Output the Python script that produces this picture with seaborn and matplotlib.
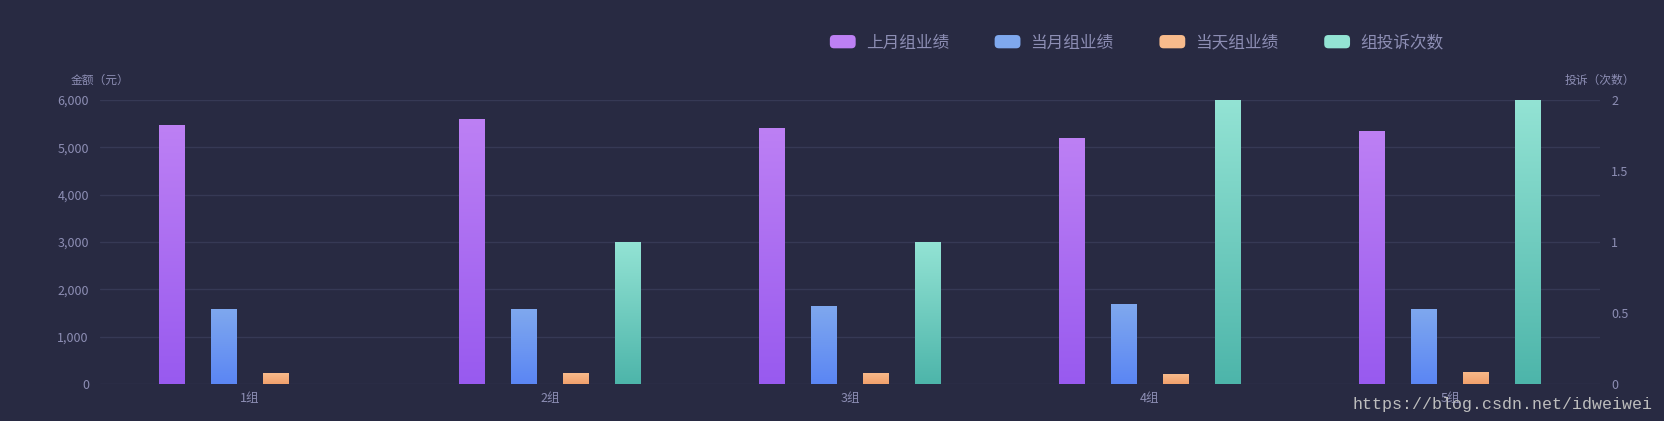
import numpy as np
import pandas as pd
import seaborn as sns
import matplotlib.pyplot as plt
from matplotlib.colors import LinearSegmentedColormap, to_hex
from matplotlib.patches import Patch, FancyBboxPatch
from matplotlib.legend_handler import HandlerPatch
from matplotlib.ticker import FuncFormatter, MultipleLocator

# data
groups = ['1组', '2组', '3组', '4组', '5组']
series = ['上月组业绩', '当月组业绩', '当天组业绩', '组投诉次数']
last_month = [5470, 5600, 5410, 5200, 5340]
this_month = [1585, 1580, 1650, 1680, 1590]
today = [232, 226, 233, 204, 254]
complaints = [0, 1, 1, 2, 2]

# gradient ends (top, bottom) per series
grad_colors = {
    '上月组业绩': ('#bd80f4', '#985aef'),
    '当月组业绩': ('#7fa8ee', '#5b86f4'),
    '当天组业绩': ('#f8bb8c', '#f1a06c'),
    '组投诉次数': ('#93e3d4', '#4db5aa'),
}
palette = {k: v[1] for k, v in grad_colors.items()}
legend_colors = {k: v[0] for k, v in grad_colors.items()}

BG = '#282a42'
GRID = '#363955'
TXT = '#8d8eb4'

sns.set_theme(style='dark')
plt.rcParams['font.family'] = ['Noto Sans CJK SC', 'DejaVu Sans']

zeros = [0] * len(groups)
# both axes get all four series so the dodge slots line up;
# the series belonging to the other axis are zero height there
money = pd.DataFrame({
    'group': groups * 4,
    'series': np.repeat(series, len(groups)),
    'value': last_month + this_month + today + zeros,
})
counts = pd.DataFrame({
    'group': groups * 4,
    'series': np.repeat(series, len(groups)),
    'value': zeros + zeros + zeros + complaints,
})

fig = plt.figure(figsize=(16.64, 4.21), dpi=100, facecolor=BG)
ax = fig.add_axes([100 / 1664, 37 / 421, 1500 / 1664, 284 / 421])
ax.set_facecolor(BG)
ax2 = ax.twinx()

common = dict(x='group', y='value', hue='series', hue_order=series, order=groups,
              palette=palette, width=0.693, gap=0.5, errorbar=None, legend=False,
              saturation=1, linewidth=0)
sns.barplot(data=money, ax=ax, **common)
sns.barplot(data=counts, ax=ax2, **common)


def paint(axis):
    # swap the flat fill for a vertical gradient clipped to each bar
    lookup = {to_hex(v): k for k, v in palette.items()}
    for bar in list(axis.patches):
        h = bar.get_height()
        if not np.isfinite(h) or h <= 0:
            continue
        top, bottom = grad_colors[lookup[to_hex(bar.get_facecolor())]]
        cmap = LinearSegmentedColormap.from_list('g', [bottom, top])
        x0, y0, w = bar.get_x(), bar.get_y(), bar.get_width()
        im = axis.imshow(np.linspace(0, 1, 256).reshape(-1, 1), cmap=cmap,
                         extent=[x0, x0 + w, y0, y0 + h], origin='lower',
                         aspect='auto', zorder=2)
        im.set_clip_path(bar)
        bar.set_facecolor('none')
        bar.set_edgecolor('none')


paint(ax)
paint(ax2)
ax.set_xlim(-0.5, 4.5)
ax.set_ylim(0, 6000)
ax2.set_ylim(0, 2)

ax.yaxis.set_major_locator(MultipleLocator(1000))
ax.yaxis.set_major_formatter(FuncFormatter(lambda v, _: f'{v:,.0f}'))
ax2.yaxis.set_major_locator(MultipleLocator(0.5))
ax2.yaxis.set_major_formatter(FuncFormatter(lambda v, _: f'{v:g}'))

ax.grid(axis='y', color=GRID, linewidth=1)
ax.grid(axis='x', visible=False)
ax2.grid(False)
ax.set_axisbelow(True)
for a in (ax, ax2):
    for s in a.spines.values():
        s.set_visible(False)
    a.set_xlabel('')
    a.set_ylabel('')
    a.tick_params(length=0, colors=TXT, labelsize=9)
ax.tick_params(axis='y', pad=8)
ax2.tick_params(axis='y', pad=8)
ax.tick_params(axis='x', pad=6)

ax.text(0, 1.07, '金额（元）', transform=ax.transAxes, ha='center', va='center',
        color=TXT, fontsize=8.5)
ax2.text(1.0, 1.07, '投诉（次数）', transform=ax.transAxes, ha='center', va='center',
         color=TXT, fontsize=8.5)


class RoundHandler(HandlerPatch):
    def create_artists(self, legend, orig_handle, xdescent, ydescent,
                       width, height, fontsize, trans):
        p = FancyBboxPatch((-xdescent, -ydescent), width, height,
                           boxstyle='round,pad=0,rounding_size=3',
                           facecolor=orig_handle.get_facecolor(), edgecolor='none',
                           transform=trans)
        return [p]


handles = [Patch(facecolor=legend_colors[s], edgecolor='none') for s in series]
fig.legend(handles, series, loc='center', bbox_to_anchor=(0.683, 0.898), ncol=4,
           frameon=False, fontsize=12, labelcolor=TXT, handlelength=1.55,
           handleheight=0.85, handletextpad=0.6, columnspacing=2.75,
           handler_map={Patch: RoundHandler()})

fig.text(1502 / 1664, 1 - 404 / 421, 'https://blog.csdn.net/idweiwei', ha='center',
         va='center', color='#bdbdbd', fontsize=12, family='Liberation Mono')

fig.savefig('out.png', dpi=100, facecolor=BG)
